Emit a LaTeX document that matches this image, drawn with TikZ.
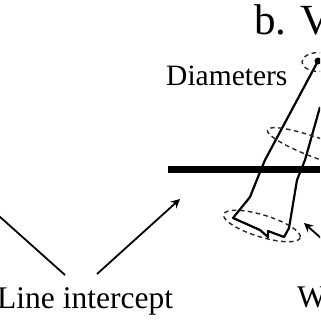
\documentclass[tikz,border=0pt]{standalone}
\usepackage{fontspec}
\setmainfont{Liberation Serif}
\usetikzlibrary{arrows.meta}
\tikzset{
  label text/.style={inner sep=0pt,anchor=base west,text=black},
  pointer/.style={line width=1.8pt,black,-{Stealth[length=9pt,width=9pt]}},
  plain line/.style={line width=1.8pt,black},
  stem/.style={line width=2.2pt,black,line join=round},
  guide/.style={line width=1.4pt,black!85,dash pattern=on 4.5pt off 3.5pt},
}
\begin{document}
\begin{tikzpicture}[x=1pt,y=-1pt]
\useasboundingbox (0,0) rectangle (320,320);
\clip (0,0) rectangle (320,320);

% headings and labels
\node[label text,font=\fontsize{43}{43}\selectfont] (title) at (254,35) {b. V};
\node[label text,font=\fontsize{29.5}{30}\selectfont] (diam) at (166,86) {Diameters};
\node[label text,font=\fontsize{31.5}{32}\selectfont] (line) at (-3,308) {Line intercept};
\node[label text,font=\fontsize{31.5}{32}\selectfont] (w) at (297,307) {W};

% intercept line
\draw[line width=7.5pt,black] (168,169.5) -- (320,169.5);

% pointers from the labels
\coordinate (a0) at (-1,216);
\coordinate (a1) at (65,275);
\coordinate (b0) at (97,274);
\coordinate (b1) at (180,199);
\coordinate (c0) at (322,239);
\coordinate (c1) at (304,223);
\draw[plain line] (a0) -- (a1);
\draw[pointer] (b0) -- (b1);
\draw[pointer] (c0) -- (c1);

% stem outline with its broken base
\coordinate (top) at (318,61);
\draw[stem] (top) -- (265,160) -- (258,177) -- (250,197) -- (233,218)
  -- (260,230) -- (268,237) -- (268,231) -- (284,237) -- (289,228)
  -- (297,180) -- (305,160) -- (320,107);
\fill[black] (top) circle (3.5pt);

% dashed measuring rings
\draw[guide] (319,62) ellipse [x radius=17,y radius=9.5];
\draw[guide,rotate around={-20:(320,149)}] (320,149) ellipse [x radius=56,y radius=10];
\draw[guide,rotate around={-17:(262,226)}] (262,226) ellipse [x radius=40,y radius=11];
\end{tikzpicture}
\end{document}
